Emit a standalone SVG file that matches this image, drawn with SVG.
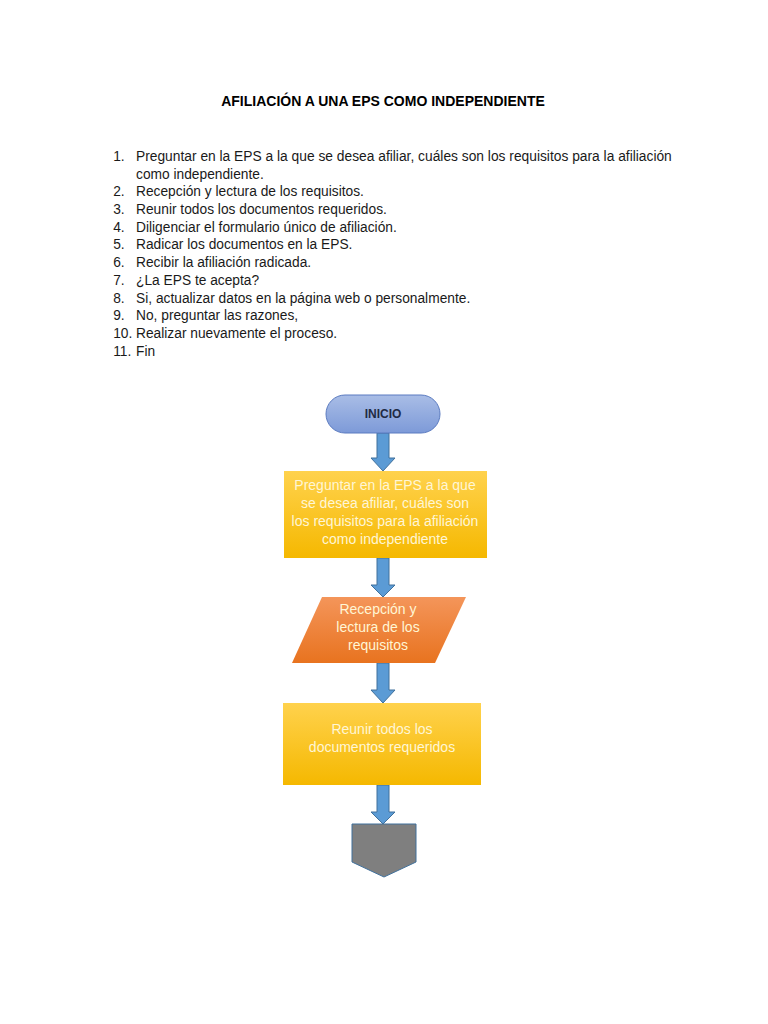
<svg xmlns="http://www.w3.org/2000/svg" width="768" height="1024" viewBox="0 0 768 1024">
<style>
.t{font-family:"Liberation Sans",Arial,sans-serif;font-size:14.5px;fill:#1a1a1a}
.h{font-family:"Liberation Sans",Arial,sans-serif;font-size:14px;font-weight:bold;fill:#000}
.w{font-family:"Liberation Sans",Arial,sans-serif;font-size:14px;fill:#fff6d5;text-anchor:middle}
.arr{fill:#5b9bd5;stroke:#41719c;stroke-width:1}
</style>
<defs>
<linearGradient id="gb" x1="0" y1="0" x2="0" y2="1"><stop offset="0" stop-color="#a9bde6"/><stop offset="1" stop-color="#7d9ad8"/></linearGradient>
<linearGradient id="gy" x1="0" y1="0" x2="0" y2="1"><stop offset="0" stop-color="#ffd24d"/><stop offset="1" stop-color="#f5b800"/></linearGradient>
<linearGradient id="go" x1="0" y1="0" x2="0" y2="1"><stop offset="0" stop-color="#f4955a"/><stop offset="1" stop-color="#e8731f"/></linearGradient>
</defs>
<rect width="768" height="1024" fill="#fff"/>
<text class="h" x="383" y="106" text-anchor="middle">AFILIACIÓN A UNA EPS COMO INDEPENDIENTE</text>
<g id="list" class="t" transform="translate(136,0) scale(0.95,1) translate(-136,0)">
<text x="112" y="161">1.</text><text x="136" y="161" textLength="564" lengthAdjust="spacingAndGlyphs">Preguntar en la EPS a la que se desea afiliar, cuáles son los requisitos para la afiliación</text>
<text x="136" y="179">como independiente.</text>
<text x="112" y="196">2.</text><text x="136" y="196">Recepción y lectura de los requisitos.</text>
<text x="112" y="214">3.</text><text x="136" y="214">Reunir todos los documentos requeridos.</text>
<text x="112" y="232">4.</text><text x="136" y="232">Diligenciar el formulario único de afiliación.</text>
<text x="112" y="249">5.</text><text x="136" y="249">Radicar los documentos en la EPS.</text>
<text x="112" y="267">6.</text><text x="136" y="267">Recibir la afiliación radicada.</text>
<text x="112" y="285">7.</text><text x="136" y="285">¿La EPS te acepta?</text>
<text x="112" y="303">8.</text><text x="136" y="303">Si, actualizar datos en la página web o personalmente.</text>
<text x="112" y="320">9.</text><text x="136" y="320">No, preguntar las razones,</text>
<text x="112" y="338">10.</text><text x="136" y="338">Realizar nuevamente el proceso.</text>
<text x="112" y="356">11.</text><text x="136" y="356">Fin</text>
</g>
<g id="connectors">
<path class="arr" d="M377,433 H389 V458 H395 L383,471 L371,458 H377 Z"/>
<path class="arr" d="M377,558 H389 V585 H395 L383,597 L371,585 H377 Z"/>
<path class="arr" d="M377,663 H389 V690 H395 L383,703 L371,690 H377 Z"/>
<path class="arr" d="M377,785 H389 V812 H395 L383,824 L371,812 H377 Z"/>
</g>
<g id="inicio">
<rect x="326" y="395" width="114" height="38" rx="19" fill="url(#gb)" stroke="#5b7bc0" stroke-width="1"/>
<text x="383" y="418" text-anchor="middle" font-family="Liberation Sans,Arial,sans-serif" font-size="12" font-weight="bold" fill="#1f2a44">INICIO</text>
</g>
<g id="preguntar">
<rect x="284" y="471" width="203" height="87" fill="url(#gy)"/>
<text class="w" x="385" y="490">Preguntar en la EPS a la que</text>
<text class="w" x="385" y="508">se desea afiliar, cuáles son</text>
<text class="w" x="385" y="526">los requisitos para la afiliación</text>
<text class="w" x="385" y="544">como independiente</text>
</g>
<g id="recepcion">
<polygon points="322,597 466,597 435,663 292,663" fill="url(#go)"/>
<text class="w" x="378" y="614">Recepción y</text>
<text class="w" x="378" y="632">lectura de los</text>
<text class="w" x="378" y="650">requisitos</text>
</g>
<g id="reunir">
<rect x="283" y="703" width="198" height="82" fill="url(#gy)"/>
<text class="w" x="382" y="734">Reunir todos los</text>
<text class="w" x="382" y="752">documentos requeridos</text>
</g>
<g id="conector">
<polygon points="352,824 416,824 416,862 384,877 352,862" fill="#7f7f7f" stroke="#41719c" stroke-width="1"/>
</g>
</svg>
